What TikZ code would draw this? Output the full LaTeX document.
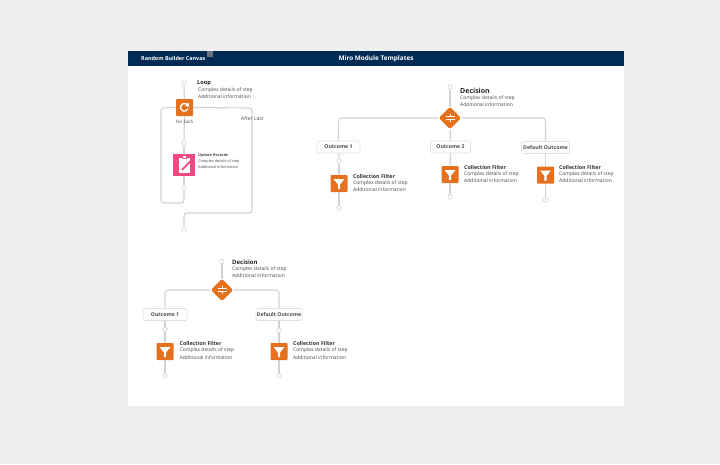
\documentclass[tikz,border=0pt]{standalone}
\usepackage{fontspec}
\setmainfont{Open Sans}
\usetikzlibrary{shapes.geometric,calc}
\definecolor{pagebg}{HTML}{EFEFEF}
\definecolor{navy}{HTML}{002B54}
\definecolor{flow}{HTML}{D2D2D2}
\definecolor{orangeb}{HTML}{E5711F}
\definecolor{pinkb}{HTML}{F7477F}
\definecolor{txt}{HTML}{4A4A4A}
\tikzset{
  conn/.style={draw=flow,line width=1.1pt,rounded corners=3pt},
  dot/.style={circle,draw=flow,fill=white,line width=.6pt,minimum size=4.4pt,inner sep=0pt},
  orangebox/.style={fill=orangeb,minimum size=17pt,inner sep=0pt,rounded corners=.8pt},
  pinkbox/.style={fill=pinkb,minimum size=22pt,inner sep=0pt},
  dia/.style={diamond,fill=orangeb,minimum size=22pt,inner sep=0pt,rounded corners=1.5pt},
  outc/.style={draw=flow!70,fill=white,line width=.6pt,rounded corners=1.5pt,minimum height=12pt,inner sep=0pt,font=\fontsize{5.2}{6}\selectfont\bfseries\color{black!70}},
  ttl/.style={anchor=west,inner sep=0pt,font=\fontsize{5.3}{6}\selectfont\bfseries\color{black!80}},
  ttlb/.style={anchor=west,inner sep=0pt,font=\fontsize{7}{8}\selectfont\bfseries\color{black!85}},
  body/.style={anchor=west,inner sep=0pt,font=\fontsize{5}{6}\selectfont\color{txt}},
  small/.style={anchor=west,inner sep=0pt,font=\fontsize{3.8}{5}\selectfont\color{txt}},
  head/.style={inner sep=0pt,font=\fontsize{6.4}{7}\selectfont\bfseries\color{white}},
}
\newcommand{\funnelat}[1]{%
  \fill[white] ($(#1)+(-5.5,-4.5)$) -- ($(#1)+(5.5,-4.5)$) -- ($(#1)+(1.2,0.8)$) -- ($(#1)+(1.2,5.5)$) -- ($(#1)+(-1.2,5.5)$) -- ($(#1)+(-1.2,0.8)$) -- cycle;}
\newcommand{\switchat}[1]{%
  \draw[white,line width=.9pt] ($(#1)+(-4.5,-1.5)$) -- ($(#1)+(4.5,-1.5)$) ($(#1)+(-4.5,1.5)$) -- ($(#1)+(4.5,1.5)$) ($(#1)+(0,-4)$) -- ($(#1)+(0,-2)$) ($(#1)+(0,2)$) -- ($(#1)+(0,4)$);}
\begin{document}
\begin{tikzpicture}[x=1pt,y=-1pt]
\useasboundingbox (0,0) rectangle (720,464);
\fill[pagebg] (0,0) rectangle (720,464);
\fill[white] (128,51) rectangle (624,406);
\fill[navy] (128,51) rectangle (624,66);
\fill[black!45!navy!60!white] (207,51) rectangle (213,56.5);
\node[head,anchor=west] (h1) at (141,58.5) {\fontsize{5.4}{6}\selectfont Random Builder Canvas};
\node[head] (h2) at (376,58.5) {Miro Module Templates};

% Loop
\coordinate (lTL) at (161,108); \coordinate (lBL) at (161,203);
\coordinate (lR) at (252,108); \coordinate (lBR) at (252,213);
\node[dot] (l0) at (184,83) {};
\node[orangebox] (l1) at (184.5,107.5) {};
\node[dot] (l2) at (184,143) {};
\node[pinkbox] (l3) at (184,165) {};
\node[dot] (l4) at (184,187) {};
\node[dot] (l5) at (184,229) {};
\draw[conn] (l0) -- (l1);
\draw[conn] (l1) -- (l2);
\draw[conn] (l2) -- (l3);
\draw[conn] (l3) -- (l4);
\draw[conn] (l4) -- (184,203) -- (lBL) -- (lTL) -- (l1.west);
\draw[conn] (l1.east) -- (lR) -- (lBR) -- (184,213) -- (l5);
\draw[white,line width=1.3pt] (184.5,107.5) ++(3.6,-1.5) arc[start angle=-20,end angle=-340,radius=3.9];
\fill[white] (188.6,102.5) -- (189,107) -- (185,105.5) -- cycle;
\fill[white] (178.5,157.5) rectangle (189.5,172.5);
\fill[pinkb] (181.5,156.8) rectangle (187,159.2);
\fill[white] (182.5,155.5) rectangle (186,158.3);
\draw[pinkb,line width=1.8pt] (182,170) -- (190.5,161);
\node[ttl,font=\fontsize{5.6}{6}\selectfont\bfseries\color{black!85}] (t1) at (197,83.5) {Loop};
\node[body] (t2) at (198,90) {Complex details of step};
\node[body] (t3) at (198,96.5) {Additional information};
\node[inner sep=0pt,font=\fontsize{4.4}{5}\selectfont\color{txt}] (t4) at (184.5,122) {For Each};
\node[body] (t5) at (241,119) {After Last};
\node[small] (t6) at (198,155.5) {\bfseries Update Records};
\node[small] (t7) at (198,161) {Complex details of step};
\node[small] (t8) at (198,167) {Additional information};

% Decision right
\node[dot] (a0) at (450,87) {};
\node[dia] (a1) at (450,118) {};
\node[outc,minimum width=43pt] (a2) at (338.5,147) {Outcome 1};
\node[outc,minimum width=40pt] (a3) at (450.5,147) {Outcome 2};
\node[outc,minimum width=48pt] (a4) at (545.5,147.5) {Default Outcome};
\node[dot] (a5) at (339,161) {};
\node[orangebox] (a6) at (339,183.5) {};
\node[dot] (a7) at (339,208) {};
\node[orangebox] (a8) at (450,174.5) {};
\node[dot] (a9) at (450,197) {};
\node[orangebox] (a10) at (545.5,175) {};
\node[dot] (a11) at (545.5,200) {};
\draw[conn] (a0) -- (a1);
\draw[conn] (a1) -- (338.5,118) -- (a2);
\draw[conn] (a1) -- (a3);
\draw[conn] (a1) -- (545.5,118) -- (a4);
\draw[conn] (a2) -- (a5); \draw[conn] (a5) -- (a6); \draw[conn] (a6) -- (a7);
\draw[conn] (a3) -- (a8); \draw[conn] (a8) -- (a9);
\draw[conn] (a4) -- (a10); \draw[conn] (a10) -- (a11);
\node[dia] at (a1) {};
\switchat{a1}
\funnelat{a6}\funnelat{a8}\funnelat{a10}
\node[ttlb] (b1) at (460,90.5) {Decision};
\node[body] (b2) at (460,98.5) {Complex details of step};
\node[body] (b3) at (460,104.5) {Additional information};
\node[ttl] (b4) at (353,176.5) {Collection Filter};
\node[body] (b5) at (353,183) {Complex details of step};
\node[body] (b6) at (353,190) {Additional information};
\node[ttl] (b7) at (464,167.5) {Collection Filter};
\node[body] (b8) at (464,174.5) {Complex details of step};
\node[body] (b9) at (464,181) {Additional information};
\node[ttl] (b10) at (559,168) {Collection Filter};
\node[body] (b11) at (559,174.5) {Complex details of step};
\node[body] (b12) at (559,181) {Additional information};

% Decision lower-left
\node[dot] (c0) at (222,261.5) {};
\node[dia] (c1) at (222,290) {};
\node[outc,minimum width=44pt] (c2) at (165,314.5) {Outcome 1};
\node[outc,minimum width=46pt] (c3) at (279,314.5) {Default Outcome};
\node[dot] (c4) at (165,329.5) {};
\node[orangebox] (c5) at (165,351.5) {};
\node[dot] (c6) at (165,375.5) {};
\node[dot] (c7) at (279,330.5) {};
\node[orangebox] (c8) at (279,351.5) {};
\node[dot] (c9) at (279,375.5) {};
\draw[conn] (c0) -- (c1);
\draw[conn] (c1) -- (165,290) -- (c2);
\draw[conn] (c1) -- (279,290) -- (c3);
\draw[conn] (c2) -- (c4); \draw[conn] (c4) -- (c5); \draw[conn] (c5) -- (c6);
\draw[conn] (c3) -- (c7); \draw[conn] (c7) -- (c8); \draw[conn] (c8) -- (c9);
\node[dia] at (c1) {};
\switchat{c1}
\funnelat{c5}\funnelat{c8}
\node[ttlb,font=\fontsize{6}{7}\selectfont\bfseries\color{black!85}] (d1) at (232,262) {Decision};
\node[body] (d2) at (232,269) {Complex details of step};
\node[body] (d3) at (232,276) {Additional information};
\node[ttl] (d4) at (179.5,344) {Collection Filter};
\node[body] (d5) at (179.5,350.5) {Complex details of step};
\node[body] (d6) at (179.5,358) {Additional information};
\node[ttl] (d7) at (293,344) {Collection Filter};
\node[body] (d8) at (293,350.5) {Complex details of step};
\node[body] (d9) at (293,358) {Additional information};
\end{tikzpicture}
\end{document}
